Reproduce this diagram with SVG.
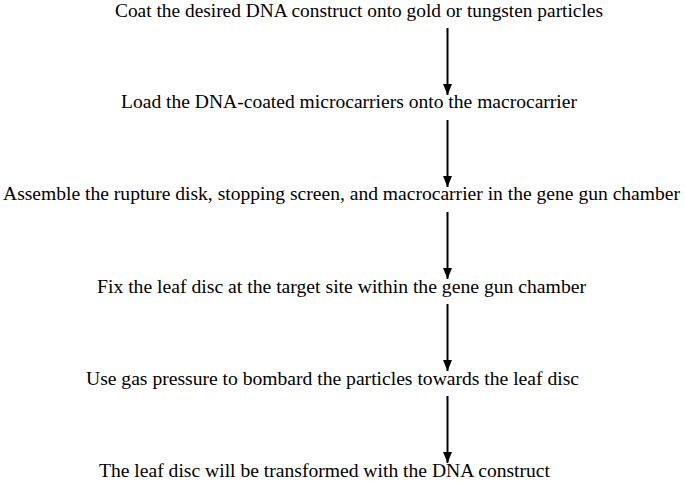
<svg xmlns="http://www.w3.org/2000/svg" width="685" height="481" viewBox="0 0 685 481">
<defs>
<style>
.c line{stroke:#000;stroke-width:2}
</style>
<marker id="ah" markerWidth="11" markerHeight="9" refX="11" refY="4.5" orient="auto" markerUnits="userSpaceOnUse">
<path d="M0,0 L11,4.5 L0,9 Z" fill="#000"/>
</marker>
</defs>
<rect width="685" height="481" fill="#fff"/>
<g font-family="Liberation Serif, DejaVu Serif, serif" font-size="18" fill="#000">
<g id="n1"><text x="115" y="17" textLength="488" lengthAdjust="spacingAndGlyphs">Coat the desired DNA construct onto gold or tungsten particles</text></g>
<g id="n2"><text x="121" y="108" textLength="456" lengthAdjust="spacingAndGlyphs">Load the DNA-coated microcarriers  onto the macrocarrier</text></g>
<g id="n3"><text x="3" y="200" textLength="677" lengthAdjust="spacingAndGlyphs">Assemble the rupture disk, stopping screen, and macrocarrier  in the gene gun chamber</text></g>
<g id="n4"><text x="97" y="293" textLength="489" lengthAdjust="spacingAndGlyphs">Fix the leaf disc at the target site within the gene gun chamber</text></g>
<g id="n5"><text x="86" y="385" textLength="493" lengthAdjust="spacingAndGlyphs">Use gas pressure to bombard the particles  towards the leaf disc</text></g>
<g id="n6"><text x="99" y="477" textLength="451" lengthAdjust="spacingAndGlyphs">The leaf disc will be transformed with the DNA construct</text></g>
</g>
<g class="c" id="connectors">
<line x1="447.5" y1="28" x2="447.5" y2="95" marker-end="url(#ah)"/>
<line x1="447.5" y1="120" x2="447.5" y2="187" marker-end="url(#ah)"/>
<line x1="447.5" y1="212" x2="447.5" y2="279" marker-end="url(#ah)"/>
<line x1="447.5" y1="304" x2="447.5" y2="371" marker-end="url(#ah)"/>
<line x1="447.5" y1="396" x2="447.5" y2="463" marker-end="url(#ah)"/>
</g>
</svg>
